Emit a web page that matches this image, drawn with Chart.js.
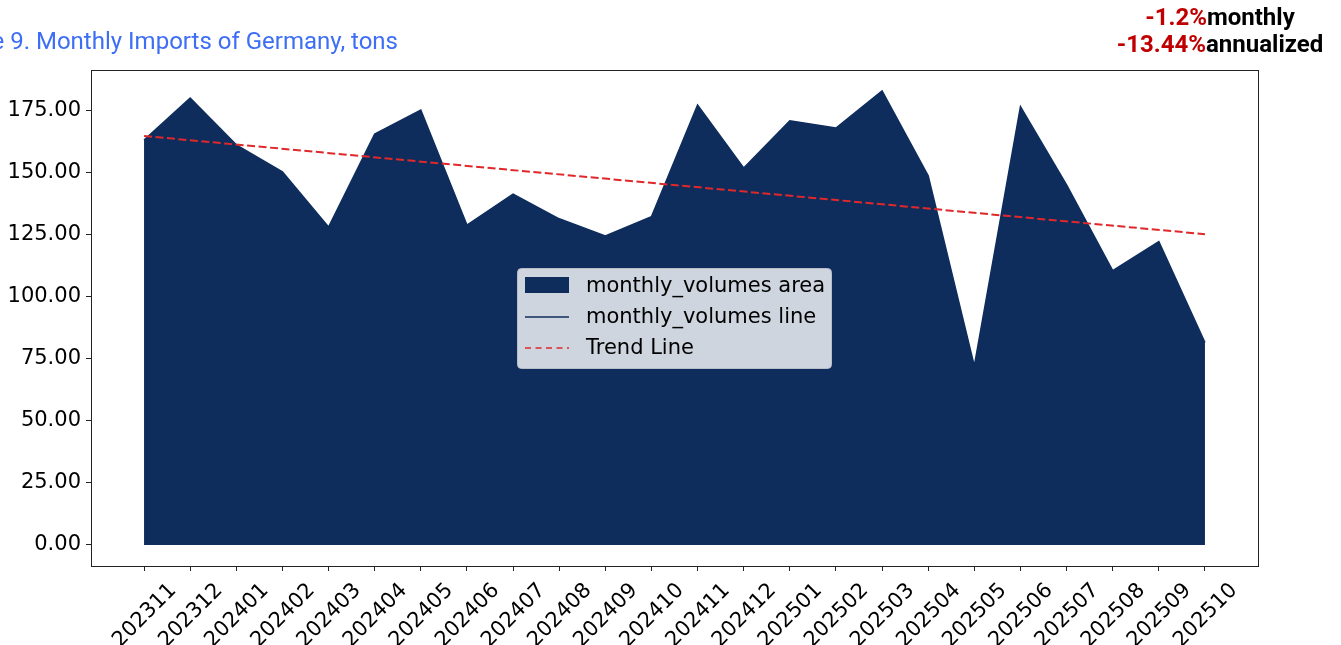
<!DOCTYPE html>
<html>
<head>
<meta charset="utf-8">
<script src="https://cdn.jsdelivr.net/npm/chart.js@4.4.1/dist/chart.umd.min.js"></script>
<style>
html,body{margin:0;padding:0;background:#fff;}
#wrap{width:1341px;height:645px;position:relative;}
</style>
</head>
<body>
<div id="wrap"><canvas id="c" width="1341" height="645"></canvas></div>
<script>
const categories = ['202311','202312','202401','202402','202403','202404','202405','202406','202407','202408','202409','202410','202411','202412','202501','202502','202503','202504','202505','202506','202507','202508','202509','202510'];
const monthlyVolumes = [163.3,180.2,161.3,150.4,128.2,165.7,175.4,129.0,141.5,131.5,124.6,132.3,177.4,152.0,171.0,168.1,183.1,148.8,72.2,176.7,145.2,110.6,122.3,81.6];
const trendEnds = [164.9,125.3];
const yTickValues = [0,25,50,75,100,125,150,175];
const titleText = 'Figure 9. Monthly Imports of Germany, tons';
const noteMonthly = ['-1.2%','monthly'];
const noteAnnual = ['-13.44%','annualized'];

const NAVY = '#0e2d5c';
const RED = '#e0282b';
const tickFont = {family:'DejaVu Sans', size:21};

const areaData = monthlyVolumes.map((v,i)=>({x:i,y:v}));
const trendData = [{x:0,y:trendEnds[0]},{x:categories.length-1,y:trendEnds[1]}];

const decor = {
  id:'decor',
  afterDraw(chart){
    const ctx = chart.ctx, a = chart.chartArea;
    ctx.save();
    // frame
    ctx.strokeStyle = '#222'; ctx.lineWidth = 1;
    ctx.strokeRect(Math.round(a.left)+0.5, Math.round(a.top)+0.5, Math.round(a.right-a.left), Math.round(a.bottom-a.top));
    // x tick labels (rotated, centred on tick like matplotlib)
    const xs = chart.scales.x;
    ctx.font = '21px DejaVu Sans';
    ctx.fillStyle = '#000';
    ctx.textAlign = 'center'; ctx.textBaseline = 'middle';
    const h = 21*0.73;
    categories.forEach((c,i)=>{
      const px = xs.getPixelForValue(i);
      const w = ctx.measureText(c).width;
      const half = (w+h)/(2*Math.SQRT2);
      ctx.save();
      ctx.translate(px, 581 + half);
      ctx.rotate(-Math.PI/4);
      ctx.fillText(c, 0, 1);
      ctx.restore();
    });
    // title
    ctx.font = '24px Roboto';
    ctx.fillStyle = '#3d6ef5';
    ctx.textAlign = 'right'; ctx.textBaseline = 'alphabetic';
    ctx.fillText(titleText, 398, 49);
    // notes
    ctx.font = 'bold 24px Roboto';
    const drawNote = (parts, cx, y) => {
      const w1 = ctx.measureText(parts[0]).width, w2 = ctx.measureText(parts[1]).width;
      const x0 = cx - (w1+w2)/2;
      ctx.textAlign = 'left';
      ctx.fillStyle = '#c00000'; ctx.fillText(parts[0], x0, y);
      ctx.fillStyle = '#000'; ctx.fillText(parts[1], x0+w1, y);
    };
    drawNote(noteMonthly, 1220, 25);
    drawNote(noteAnnual, 1220, 52);
    // legend
    const lx = 517.5, ly = 268.5, lw = 314, lh = 100;
    ctx.beginPath();
    ctx.roundRect(lx, ly, lw, lh, 4);
    ctx.fillStyle = 'rgba(255,255,255,0.8)';
    ctx.fill();
    ctx.strokeStyle = '#b8bec8'; ctx.lineWidth = 1; ctx.stroke();
    const ds = chart.data.datasets;
    const rows = [286, 317, 348];
    ctx.fillStyle = NAVY; ctx.fillRect(525, 277, 44, 16);
    ctx.strokeStyle = NAVY; ctx.lineWidth = 1.5;
    ctx.beginPath(); ctx.moveTo(525, rows[1]); ctx.lineTo(569, rows[1]); ctx.stroke();
    ctx.strokeStyle = RED; ctx.lineWidth = 1.5; ctx.setLineDash([6,4.5]);
    ctx.beginPath(); ctx.moveTo(525, rows[2]); ctx.lineTo(569, rows[2]); ctx.stroke();
    ctx.setLineDash([]);
    ctx.font = '21px DejaVu Sans';
    ctx.fillStyle = '#000'; ctx.textAlign = 'left'; ctx.textBaseline = 'middle';
    ds.forEach((d,i)=>ctx.fillText(d.label, 586, rows[i]+1));
    ctx.restore();
  }
};

new Chart(document.getElementById('c'), {
  type:'line',
  data:{
    datasets:[
      {label:'monthly_volumes area', data:areaData, fill:'origin', backgroundColor:NAVY, borderWidth:0, borderColor:'rgba(0,0,0,0)', pointRadius:0, tension:0, order:3},
      {label:'monthly_volumes line', data:areaData, fill:false, borderColor:NAVY, borderWidth:1.5, pointRadius:0, tension:0, order:2},
      {label:'Trend Line', data:trendData, fill:false, borderColor:RED, borderWidth:2, borderDash:[8,3.5], pointRadius:0, tension:0, order:1}
    ]
  },
  options:{
    responsive:false, animation:false,
    layout:{padding:{top:70, right:83, left:0, bottom:0}},
    plugins:{legend:{display:false}, tooltip:{enabled:false}},
    scales:{
      x:{
        type:'linear', min:-1.15, max:categories.length-1+1.15,
        afterFit(s){ s.height = 79; },
        afterBuildTicks(s){ s.ticks = categories.map((c,i)=>({value:i})); },
        ticks:{ display:false, autoSkip:false },
        grid:{display:true, drawOnChartArea:false, drawTicks:true, tickLength:5, tickColor:'#222'},
        border:{display:false}
      },
      y:{
        type:'linear', min:-8.5, max:191.5,
        afterFit(s){ s.width = 91; },
        afterBuildTicks(s){ s.ticks = yTickValues.map(v=>({value:v})); },
        ticks:{ font:tickFont, color:'#000', padding:5, callback:(v)=>v.toFixed(2) },
        grid:{display:true, drawOnChartArea:false, drawTicks:true, tickLength:5, tickColor:'#222'},
        border:{display:false}
      }
    }
  },
  plugins:[decor]
});
</script>
</body>
</html>
